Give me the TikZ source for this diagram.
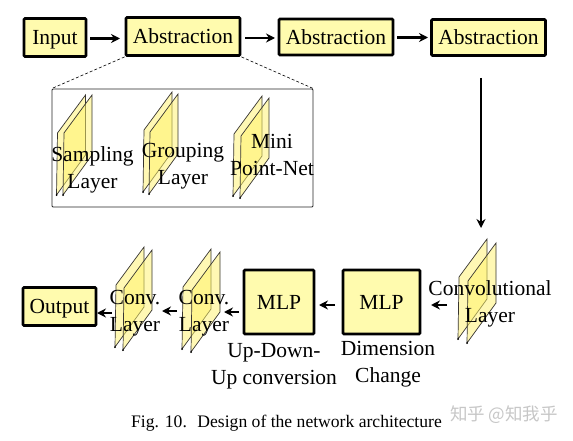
\documentclass[tikz,border=0pt]{standalone}
\usepackage{fontspec}
\setmainfont{Liberation Serif}
\newfontfamily\cjkwm{Noto Sans CJK SC}
\definecolor{boxfill}{HTML}{FFFBAE}
\definecolor{planefill}{HTML}{FFF36A}
\newcommand{\layerplane}[2]{%
  \fill[planefill,opacity=.5] (#1,#2) -- ++(28,-38) -- ++(0,60) -- ++(-29,40) -- cycle;
  \draw[planeedge] (#1,#2) -- ++(28,-38) -- ++(0,60) -- ++(-29,40) -- cycle;
  \fill (#1-1,#2+62) circle (1);
}
\usetikzlibrary{arrows.meta}
\tikzset{
  x=1pt,y=-1pt,
  blockbox/.style={draw=black,line width=2.8pt,fill=boxfill,rounded corners=1pt,inner sep=0pt,font=\fontsize{21.5}{27}\selectfont,text depth=0pt},
  flow/.style={-{Stealth[length=9pt,width=9pt]},line width=2.8pt},
  flowsmall/.style={-{Stealth[length=9pt,width=9pt]},line width=2.4pt},
  lbl/.style={font=\fontsize{21.5}{27}\selectfont,align=center,inner sep=0pt},
  planeedge/.style={draw=black!90!yellow,line width=.7pt},
}
\begin{document}
\begin{tikzpicture}
\useasboundingbox (0,0) rectangle (573,441);
\fill[white] (0,0) rectangle (573,441);
% top row
\node[blockbox,minimum width=62pt,minimum height=38pt] (input) at (55,37.5) {Input};
\node[blockbox,minimum width=114pt,minimum height=38pt] (abs1) at (183,36.5) {Abstraction};
\node[blockbox,minimum width=114pt,minimum height=36pt] (abs2) at (336,37) {Abstraction};
\node[blockbox,minimum width=114pt,minimum height=36pt] (abs3) at (488.5,37.5) {Abstraction};
\coordinate (a0) at (90,38.5); \coordinate (a1) at (120,38.5);
\coordinate (b0) at (245,38); \coordinate (b1) at (275,38);
\coordinate (c0) at (397,37.5); \coordinate (c1) at (428,37.5);
\draw[flow] (a0) -- (a1);
\draw[flow] (b0) -- (b1);
\draw[flow] (c0) -- (c1);
% inset
\node[draw=black!85,line width=.8pt,rounded corners=1pt,minimum width=261pt,minimum height=118pt,inner sep=0pt] (inset) at (182.5,148) {};
\draw[densely dashed,line width=.6pt] (abs1.south west) -- (inset.north west);
\draw[densely dashed,line width=.6pt] (abs1.south east) -- (inset.north east);
\layerplane{57.5}{133}\layerplane{64}{133}
\layerplane{144}{130}\layerplane{150}{132}
\layerplane{234}{134}\layerplane{241}{136}
\node[lbl] (t1) at (92.5,170) {Sampling\\Layer};
\node[lbl] (t2) at (183,166) {Grouping\\Layer};
\node[lbl] (t3) at (272,155) {Mini\\Point-Net};
% long arrow
\coordinate (d0) at (481,78); \coordinate (d1) at (481,228);
\draw[-{Stealth[length=9pt,width=9pt]},line width=2.6pt] (d0) -- (d1);
% bottom row
\layerplane{459}{277}\layerplane{468}{281}
\node[lbl] (t4) at (490,304) {Convolutional\\Layer};
\node[blockbox,minimum width=77pt,minimum height=64pt] (mlp2) at (381.5,302) {MLP};
\node[blockbox,minimum width=70pt,minimum height=64pt] (mlp1) at (279,302) {MLP};
\node[lbl] (t5) at (388,364) {Dimension\\Change};
\node[lbl] (t6) at (274,366) {Up-Down-\\Up conversion};
\layerplane{183}{287}\layerplane{192}{290}
\node[lbl] (t7) at (204,313) {Conv.\\Layer};
\layerplane{116}{285}\layerplane{124}{288}
\node[lbl] (t8) at (135,313) {Conv.\\Layer};
\node[blockbox,minimum width=73pt,minimum height=38pt] (output) at (59.5,306.5) {Output};
\coordinate (e0) at (447,305); \coordinate (e1) at (431,305);
\coordinate (f0) at (335,305); \coordinate (f1) at (319,305);
\coordinate (g0) at (239,312); \coordinate (g1) at (224,312);
\coordinate (h0) at (177,311); \coordinate (h1) at (162,311);
\coordinate (i0) at (112,313); \coordinate (i1) at (97,313);
\draw[flowsmall] (e0) -- (e1);
\draw[flowsmall] (f0) -- (f1);
\draw[flowsmall] (g0) -- (g1);
\draw[flowsmall] (h0) -- (h1);
\draw[flowsmall] (i0) -- (i1);
% caption
\node[inner sep=0pt,font=\fontsize{17.6}{20}\selectfont] (cap) at (286.5,423) {Fig. 10.\hspace{.6em}Design of the network architecture};
\node[inner sep=0pt,text=black!22,font=\cjkwm\fontsize{17.5}{18}\selectfont] (wm) at (504,415) {知乎 @知我乎};
\end{tikzpicture}
\end{document}
